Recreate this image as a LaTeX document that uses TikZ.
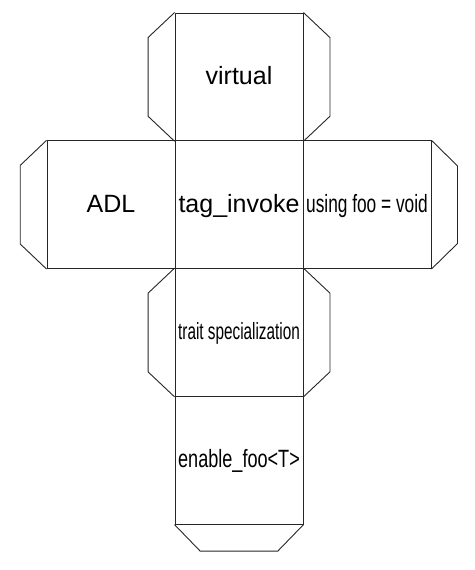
\documentclass[tikz,border=0pt]{standalone}
\usepackage{fontspec}
\setmainfont{Liberation Sans}
\begin{document}
\begin{tikzpicture}[x=1pt,y=-1pt,
  line width=0.9pt, draw=black!85,
  face/.style={draw, rectangle, minimum width=128pt, minimum height=127.8pt,
    inner sep=0pt, text height=14.6pt, text depth=0pt,
    font=\fontsize{25}{30}\selectfont},
  tab/.style={draw, line join=miter}]
\useasboundingbox (0,0) rectangle (474,570);
% faces
\node[face] (top)   at (239,76.9)  {virtual};
\node[face] (adl)   at (111,204.7) {ADL};
\node[face] (tag)   at (239,204.7) {tag\_invoke};
\node[face] (using) at (367,204.7) {\scalebox{0.692}[1]{using foo = void}};
\node[face] (trait) at (239,332.5) {\scalebox{0.6125}[0.94]{trait specialization}};
\node[face] (enab)  at (239,460.3) {\scalebox{0.7236}[1]{enable\_foo<T>}};
% tabs of the top face
\draw[tab] (top.north west) -- ++(-26.5,25) -- ([shift={(-26.5,-25)}]top.south west) -- (top.south west);
\draw[tab] (top.north east) -- ++(26.5,25) -- ([shift={(26.5,-25)}]top.south east) -- (top.south east);
% left tab of ADL
\draw[tab] (adl.north west) -- ++(-26.3,25) -- ([shift={(-26.3,-25)}]adl.south west) -- (adl.south west);
% right tab of using
\draw[tab] (using.north east) -- ++(26,25.5) -- ([shift={(26,-25.5)}]using.south east) -- (using.south east);
% tabs of trait face
\draw[tab] (trait.north west) -- ++(-26.5,25) -- ([shift={(-26.5,-25)}]trait.south west) -- (trait.south west);
\draw[tab] (trait.north east) -- ++(26.5,25) -- ([shift={(26.5,-25)}]trait.south east) -- (trait.south east);
% bottom tab of enable face
\draw[tab] (enab.south west) -- ++(25.7,26.5) -- ([shift={(-25.7,26.5)}]enab.south east) -- (enab.south east);
\end{tikzpicture}
\end{document}
